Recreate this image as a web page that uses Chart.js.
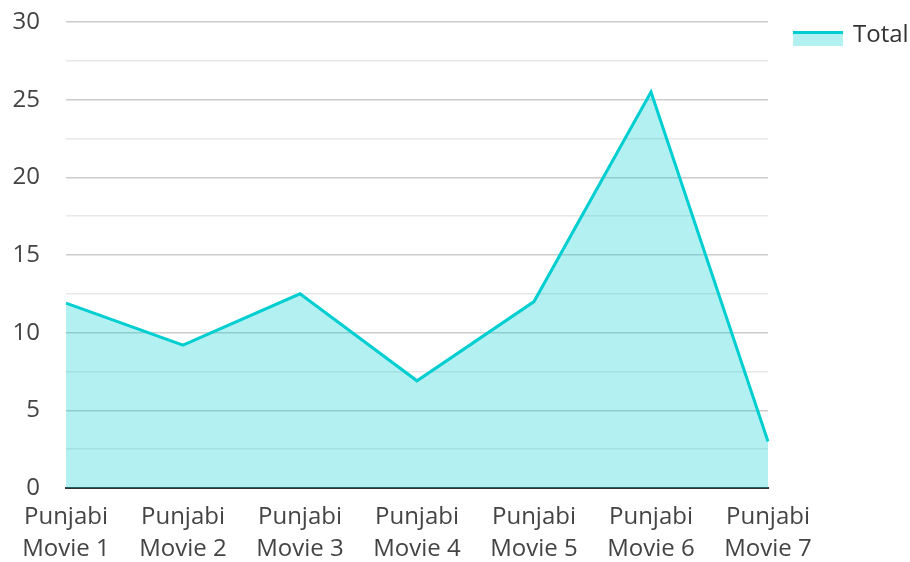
<!DOCTYPE html>
<html>
<head>
<meta charset="utf-8">
<script src="https://cdn.jsdelivr.net/npm/chart.js@4.4.0/dist/chart.umd.min.js"></script>
<style>
  body { margin: 0; background: #fff; }
  #wrap { width: 910px; height: 562px; }
</style>
</head>
<body>
<div id="wrap"><canvas id="chart"></canvas></div>
<script>
// Chart data
const movies = [
  ["Punjabi", "Movie 1"],
  ["Punjabi", "Movie 2"],
  ["Punjabi", "Movie 3"],
  ["Punjabi", "Movie 4"],
  ["Punjabi", "Movie 5"],
  ["Punjabi", "Movie 6"],
  ["Punjabi", "Movie 7"]
];
const totals = [11.9, 9.2, 12.5, 6.9, 12.0, 25.5, 3.0];
const seriesName = "Total";

const lineColor = "rgb(0,206,209)";
const fillColor = "rgba(0,206,209,0.3)";

Chart.defaults.font.family = "'Open Sans', 'Noto Sans', sans-serif";
Chart.defaults.font.size = 24;
Chart.defaults.color = "#444";

// legend drawn to the right of the plot: fill block with the line on top
const sideLegend = {
  id: "sideLegend",
  afterDraw(chart) {
    const { ctx, chartArea } = chart;
    const ds = chart.data.datasets[0];
    const x = chartArea.right + 25;
    const y = chartArea.top + 9;
    ctx.save();
    ctx.fillStyle = ds.backgroundColor;
    ctx.fillRect(x, y, 50, 15);
    ctx.fillStyle = ds.borderColor;
    ctx.fillRect(x, y, 50, 3);
    ctx.fillStyle = "#333";
    ctx.font = "24px 'Open Sans', 'Noto Sans', sans-serif";
    ctx.textBaseline = "middle";
    ctx.fillText(ds.label, x + 60, y + 4);
    ctx.restore();
  }
};

const ctx = document.getElementById("chart").getContext("2d");

new Chart(ctx, {
  type: "line",
  data: {
    labels: movies,
    datasets: [
      {
        label: seriesName,
        data: totals,
        borderColor: lineColor,
        backgroundColor: fillColor,
        borderWidth: 3,
        fill: "origin",
        tension: 0,
        pointRadius: 0,
        pointHoverRadius: 0
      }
    ]
  },
  options: {
    responsive: true,
    maintainAspectRatio: false,
    animation: false,
    layout: { padding: { top: 22, right: 142, left: 0, bottom: 0 } },
    scales: {
      x: {
        offset: false,
        grid: { color: "transparent", drawTicks: false },
        border: { display: true, color: "#333", width: 2 },
        ticks: { padding: 14, maxRotation: 0, autoSkip: false, font: { lineHeight: 1.3 } },
        afterFit: (s) => { s.height = 74; }
      },
      y: {
        min: 0,
        max: 30,
        border: { display: false },
        grid: {
          drawTicks: false,
          color: (c) => (c.tick && c.tick.value % 5 === 0 ? "#cccccc" : "#e8e8e8"),
          lineWidth: 1.5
        },
        ticks: {
          stepSize: 2.5,
          padding: 26,
          callback: (v) => (v % 5 === 0 ? v : "")
        },
        afterFit: (s) => {
          s.width = 66;
          s.paddingTop = 0;
          s.paddingBottom = 0;
        }
      }
    },
    plugins: {
      legend: { display: false },
      tooltip: { enabled: false }
    }
  },
  plugins: [sideLegend]
});
</script>
</body>
</html>
